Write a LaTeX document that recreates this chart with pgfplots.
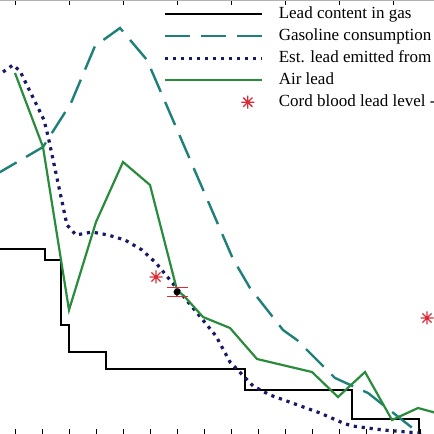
\documentclass[border=0pt]{standalone}
\usepackage{fontspec}
\setmainfont{Liberation Serif}
\usepackage{pgfplots}
\pgfplotsset{compat=1.18}

\definecolor{gasteal}{RGB}{30,128,120}
\definecolor{airgreen}{RGB}{40,140,60}
\definecolor{emitnavy}{RGB}{25,25,100}
\definecolor{cordred}{RGB}{215,45,55}

% eight-armed asterisk, as in the source
\pgfdeclareplotmark{ast8}{%
  \pgfpathmoveto{\pgfqpoint{0pt}{\pgfplotmarksize}}%
  \pgfpathlineto{\pgfqpoint{0pt}{-\pgfplotmarksize}}%
  \pgfpathmoveto{\pgfqpoint{\pgfplotmarksize}{0pt}}%
  \pgfpathlineto{\pgfqpoint{-\pgfplotmarksize}{0pt}}%
  \pgfpathmoveto{\pgfqpoint{0.707\pgfplotmarksize}{0.707\pgfplotmarksize}}%
  \pgfpathlineto{\pgfqpoint{-0.707\pgfplotmarksize}{-0.707\pgfplotmarksize}}%
  \pgfpathmoveto{\pgfqpoint{-0.707\pgfplotmarksize}{0.707\pgfplotmarksize}}%
  \pgfpathlineto{\pgfqpoint{0.707\pgfplotmarksize}{-0.707\pgfplotmarksize}}%
  \pgfusepathqstroke}

% legend samples: 97pt line, text begins 114pt from the sample's start
\pgfplotsset{
  long legend/.style={legend image code/.code={%
    \path[draw=none, fill=none] (0pt,0pt) -- (114pt,0pt);
    \draw[##1] (0pt,0pt) -- (97pt,0pt);}},
  mark legend/.style={legend image code/.code={%
    \path[draw=none, fill=none] (0pt,0pt) -- (114pt,0pt);
    \draw[##1] plot coordinates {(83pt,0pt)};}},
}

\begin{document}
\begin{tikzpicture}
  \useasboundingbox (0,0) rectangle (434pt,434pt);
  \clip (0,0) rectangle (434pt,434pt);

  % data axis (bottom ticks)
  \begin{axis}[
    at={(-3pt,-1.5pt)}, anchor=south west,
    scale only axis, width=440pt, height=435pt,
    xmin=-3, xmax=437, ymin=-1.5, ymax=433.5,
    xtick={15,42,...,420}, xticklabels={},
    ytick=\empty,
    xtick pos=lower, tick align=inside,
    major tick length=7pt,
    tick style={black, line width=0.8pt},
    axis line style={draw=none},
    legend cell align=left,
    long legend,
    legend style={
      at={(axis cs:163,428)}, anchor=north west,
      draw=none, fill=none, inner sep=0pt,
      font=\fontsize{17}{19}\selectfont,
      row sep=6pt, column sep=0pt,
      nodes={inner sep=0pt, text height=12pt, text depth=4pt},
    },
  ]
    % lead content in gas
    \addplot[black, line width=2pt, const plot] coordinates {
      (-5,185) (45,174) (61,109) (69,82) (106,65) (245,44) (352,15) (419,-10) (440,-10)
    };
    \addlegendentry{Lead content in gas}

    % gasoline consumption
    \addplot[gasteal, line width=2.4pt, dash pattern=on 25pt off 11pt] coordinates {
      (-5,259) (43,287) (71,331) (95,388) (120,406) (147,374) (233,175) (250,146)
      (283,104) (297,94) (335,56) (368,41) (420,0) (430,-8)
    };
    \addlegendentry{Gasoline consumption}

    % estimated lead emitted
    \addplot[emitnavy, line width=3.2pt, dash pattern=on 3.2pt off 4.8pt] coordinates {
      (3,362) (13,369) (20,363) (44,314) (48,298) (67,209) (76,199) (92,202) (108,199)
      (125,194) (142,184) (156,171) (170,154) (216,98) (230,72) (253,48) (270,39)
      (295,30) (320,21) (343,11) (352,8) (383,4) (419,1)
    };
    \addlegendentry{Est. lead emitted from gasoline}

    % air lead
    \addplot[airgreen, line width=2.2pt] coordinates {
      (15,361) (43,287) (69,124) (96,212) (123,272) (150,249) (177,144) (185,137)
      (203,117) (230,106) (257,75) (312,62) (338,37) (365,62) (392,14) (418,26) (440,20)
    };
    \addlegendentry{Air lead}

    % cord blood lead
    \addplot[cordred, only marks, mark=ast8, mark size=6.5pt, line width=1.3pt,
      mark legend] coordinates {
      (156,157) (427,116)
    };
    \addlegendentry{Cord blood lead level - Mexico City}

    % mean with error bar
    \addplot[black, only marks, mark=*, mark size=3.2pt, forget plot,
      error bars/.cd, y dir=both, y explicit,
      error bar style={cordred, line width=1.5pt},
      error mark options={cordred, rotate=90, mark size=10.5pt, line width=1.5pt}]
      coordinates {(177,142) +- (0,4.5)};
  \end{axis}

  % top axis line with major ticks
  \begin{axis}[
    at={(-3pt,-1.5pt)}, anchor=south west,
    scale only axis, width=440pt, height=435pt,
    xmin=-3, xmax=437, ymin=-1.5, ymax=433.5,
    axis x line*=top, hide y axis,
    xtick={15,69,...,393}, xticklabels={},
    tick align=inside, major tick length=4.5pt,
    tick style={black, line width=0.8pt},
    axis line style={gray!60, line width=1.2pt},
  ]
  \end{axis}
\end{tikzpicture}
\end{document}
